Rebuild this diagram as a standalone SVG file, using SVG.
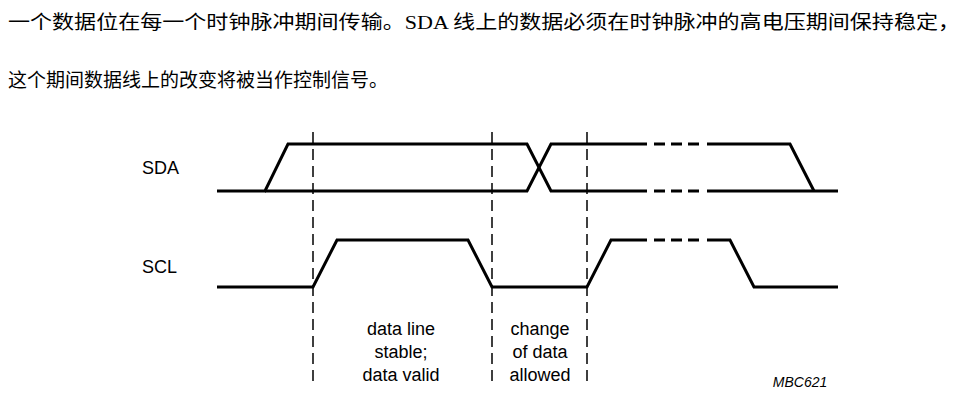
<svg xmlns="http://www.w3.org/2000/svg" width="970" height="403" viewBox="0 0 970 403">
<style>
.w{fill:none;stroke:#000;stroke-width:3;stroke-linejoin:miter}
.d{fill:none;stroke:#000;stroke-width:1.5;stroke-dasharray:11 6}
.g{fill:none;stroke:#000;stroke-width:3;stroke-dasharray:11 6}
.t{font-family:"Liberation Sans",Arial,sans-serif;font-size:18px;fill:#000}
.c{font-family:"Liberation Serif","Noto Sans CJK SC",serif;font-size:19px;fill:#000}
</style>
<rect width="970" height="403" fill="#fff"/>
<text class="c" x="8" y="29" textLength="952" lengthAdjust="spacingAndGlyphs">一个数据位在每一个时钟脉冲期间传输。SDA 线上的数据必须在时钟脉冲的高电压期间保持稳定，</text>
<text class="c" x="8" y="87">这个期间数据线上的改变将被当作控制信号。</text>
<g id="sda">
<text class="t" x="142" y="174">SDA</text>
<polyline class="w" points="217,191 265,191 288,144 527,144 551,191 647,191"/>
<polyline class="w" points="265,191 527,191 551,144 647,144"/>
<line class="g" x1="654" y1="144" x2="700" y2="144"/>
<line class="g" x1="654" y1="191" x2="700" y2="191"/>
<polyline class="w" points="707,144 790,144 814,191"/>
<line class="w" x1="707" y1="191" x2="838" y2="191"/>
</g>
<g id="scl">
<text class="t" x="142" y="273">SCL</text>
<polyline class="w" points="217,287 313,287 337,240 468,240 492,287 587,287 611,240 647,240"/>
<line class="g" x1="654" y1="240" x2="700" y2="240"/>
<polyline class="w" points="707,240 730,240 754,287 838,287"/>
</g>
<g id="markers">
<line class="d" x1="313" y1="132" x2="313" y2="384"/>
<line class="d" x1="492" y1="132" x2="492" y2="384"/>
<line class="d" x1="587" y1="132" x2="587" y2="384"/>
</g>
<g id="labels" class="t" text-anchor="middle">
<text x="401" y="335">data line</text>
<text x="401" y="358">stable;</text>
<text x="401" y="381">data valid</text>
<text x="540" y="335">change</text>
<text x="540" y="358">of data</text>
<text x="540" y="381">allowed</text>
<text x="800" y="387" font-style="italic" font-size="14">MBC621</text>
</g>
</svg>
